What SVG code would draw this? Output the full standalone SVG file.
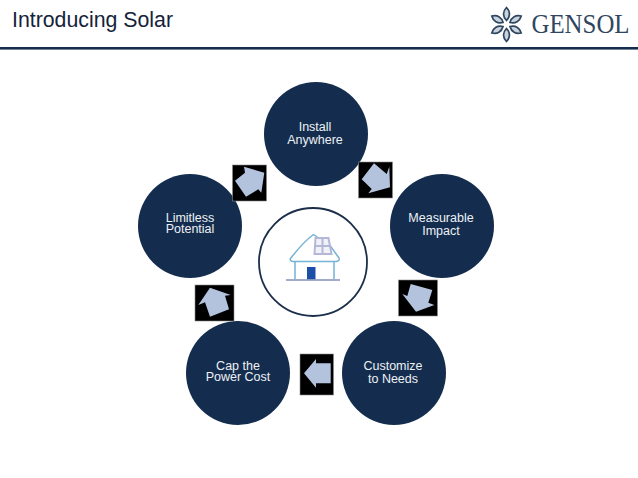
<svg xmlns="http://www.w3.org/2000/svg" width="638" height="478" viewBox="0 0 638 478">
<style>
.t{font-family:"Liberation Sans",Arial,sans-serif}
.n{fill:#142d4e}
.l{font-size:12.500px;fill:#eef1f5;text-anchor:middle}
.b{fill:#000;stroke:#8a8a8a;stroke-width:.6}
.a{fill:#b3c3de}
.p{fill:#c9d3de;stroke:#2f4660;stroke-width:1.700}
.h{fill:none;stroke:#74b3d6;stroke-width:1.500;stroke-linejoin:round}
</style>
<defs><path id="petal" class="p" d="M0-4C-4-8-4-13 0-17C4-13 4-8 0-4Z"/></defs>
<rect width="638" height="478" fill="#fff"/>
<text class="t" x="12" y="27" font-size="21.300" fill="#15233a">Introducing Solar</text>
<rect x="0" y="47" width="638" height="2.600" fill="#142d4e"/>
<g id="logo">
<g transform="translate(506.500 24.500)">
<use href="#petal"/>
<use href="#petal" transform="rotate(60)"/>
<use href="#petal" transform="rotate(120)"/>
<use href="#petal" transform="rotate(180)"/>
<use href="#petal" transform="rotate(240)"/>
<use href="#petal" transform="rotate(300)"/>
</g>
<text x="531.500" y="32.500" font-family="Liberation Serif,serif" font-size="26.500" fill="#2f4660" textLength="98" lengthAdjust="spacingAndGlyphs">GENSOL</text>
</g>
<g id="node-install"><circle class="n" cx="316" cy="134" r="52"/><text class="t l" x="315" y="131">Install</text><text class="t l" x="315" y="144">Anywhere</text></g>
<g id="node-measurable"><circle class="n" cx="442" cy="226" r="52"/><text class="t l" x="441" y="222">Measurable</text><text class="t l" x="441" y="235">Impact</text></g>
<g id="node-customize"><circle class="n" cx="394" cy="373" r="52"/><text class="t l" x="393" y="370">Customize</text><text class="t l" x="393" y="383">to Needs</text></g>
<g id="node-cap"><circle class="n" cx="238" cy="373" r="52"/><text class="t l" x="238" y="370">Cap the</text><text class="t l" x="238" y="381">Power Cost</text></g>
<g id="node-limitless"><circle class="n" cx="190" cy="226" r="52"/><text class="t l" x="190" y="222">Limitless</text><text class="t l" x="190" y="233">Potential</text></g>
<g id="node-center">
<circle cx="313" cy="262" r="54" fill="#fff" stroke="#1c2f4a" stroke-width="1.800"/>
<path class="h" d="M290.500 258.500C297 250 306 240 313.500 234.500L318.500 238L330 245.500L339 258C340 260 338 261.500 336 261.500H293C291 261.500 289.500 260 290.500 258.500Z"/>
<path class="h" d="M295 262V279M334 262V279"/>
<g fill="#f1f2f8" stroke="#b4b8d8" stroke-width="2"><path d="M315.500 238H328.500L331.500 254H314.500ZM315 246H330M322.500 238V254"/></g>
<rect x="307" y="267" width="8.500" height="12.500" fill="#1d4fa8"/>
<path d="M286 280H340" stroke="#8090b8" stroke-width="1.700"/>
</g>
<g id="connectors">
<g><rect class="b" x="232.500" y="165" width="34" height="36"/><polygon class="a" points="244,166.700 245,172.700 235,180.700 246,196.700 258.300,189.300 261.300,192.700 264.300,172.700"/></g>
<g><rect class="b" x="358.500" y="162" width="34" height="36"/><polygon class="a" points="374,163.300 386.700,174 389.300,166.700 390,187.300 368.300,193.300 371.700,189 361.700,179.300"/></g>
<g><rect class="b" x="398.500" y="280" width="39" height="36"/><polygon class="a" points="410.700,284 432.300,290 428.300,302.700 434.300,305 416,311.700 402.300,294 407.300,296"/></g>
<g><rect class="b" x="300" y="354" width="33.500" height="41"/><polygon class="a" points="304,373.300 316,359 316,363.300 330.700,363.300 330.700,383.300 316,383.300 316,387.700"/></g>
<g><rect class="b" x="195" y="285" width="39" height="36"/><polygon class="a" points="210,287.700 230.700,295 225,295.700 229,309.300 210,316.700 205,302.300 198.300,305"/></g>
</g>
</svg>
